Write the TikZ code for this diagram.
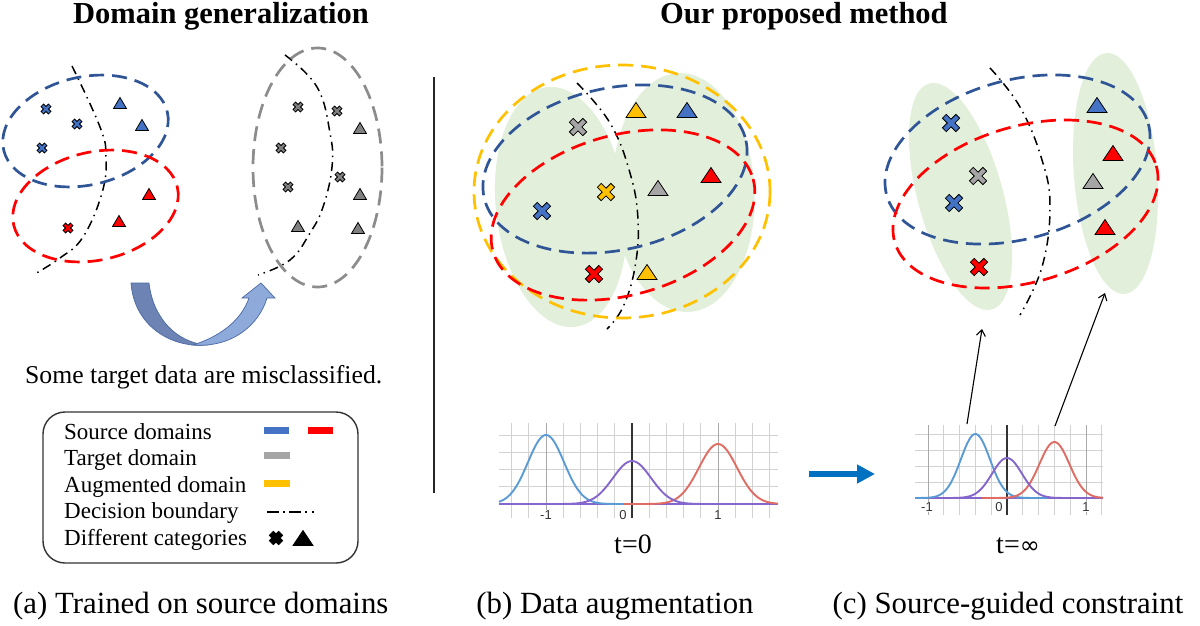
\documentclass[tikz,border=0pt]{standalone}
\usepackage{fontspec}
\usepackage{graphicx}
\setmainfont{Liberation Serif}
\newfontfamily\ticksf{Liberation Sans}
\newfontfamily\symf{DejaVu Sans}
\usetikzlibrary{arrows.meta}
\definecolor{sblue}{HTML}{2F5597}
\definecolor{mblue}{HTML}{4472C4}
\definecolor{sred}{HTML}{FF0000}
\definecolor{sgray}{HTML}{8C8C8C}
\definecolor{mgray}{HTML}{A5A5A5}
\definecolor{dgray}{HTML}{808080}
\definecolor{syel}{HTML}{FFC000}
\definecolor{sgreen}{HTML}{E2EFDA}
\definecolor{gridc}{HTML}{D2D2D2}
\definecolor{gridd}{HTML}{A8A8A8}
\definecolor{cblue}{HTML}{5A9BD5}
\definecolor{cred}{HTML}{E06C63}
\definecolor{cpurp}{HTML}{8466CC}
\definecolor{arrdark}{HTML}{6C83B3}
\definecolor{arrlight}{HTML}{8EAADB}
\definecolor{arredge}{HTML}{4A6AA5}
\definecolor{bigarrow}{HTML}{0070C0}
\tikzset{
  pics/xm/.style n args={3}{code={
    \path[fill=#1,draw=black,line width=0.8pt,rotate=45]
      (#3,#2)--(#3,#3)--(#2,#3)--(#2,-#3)--(#3,-#3)--(#3,-#2)--(-#3,-#2)
      --(-#3,-#3)--(-#2,-#3)--(-#2,#3)--(-#3,#3)--(-#3,#2)--cycle;}},
  pics/tm/.style n args={3}{code={
    \path[fill=#1,draw=black,line width=0.8pt,line join=miter]
      (-#2/2,#3/2)--(#2/2,#3/2)--(0,-#3/2)--cycle;}}
}
\begin{document}
\begin{tikzpicture}[x=1pt,y=-1pt,
  dashE/.style={line width=2.7pt, dash pattern=on 15pt off 8pt},
  ddot/.style={line width=1.5pt, dash pattern=on 9pt off 5pt on 1.5pt off 5pt},
  blob/.style={fill=sgreen},
  txt/.style={inner sep=0pt, anchor=base west},
  gl/.style={draw=gridc, line width=0.9pt},
  gd/.style={draw=gridd, line width=1pt},
  ax/.style={draw=black!80, line width=1.6pt},
  crv/.style={line width=1.9pt},
  tick/.style={inner sep=0pt, text=black!80, font=\ticksf\fontsize{13}{15}\selectfont},
  thin/.style={line width=1.1pt, -{Straight Barb[length=6pt,width=9pt]}}
]
\useasboundingbox (0,0) rectangle (1200,625);
\fill[white] (0,0) rectangle (1200,625);

% ---------------- titles ----------------
\node[txt, font=\bfseries\fontsize{30.5}{36}\selectfont] (t1) at (73,23) {Domain generalization};
\node[txt, font=\bfseries\fontsize{30.5}{36}\selectfont] (t2) at (660,23) {Our proposed method};

% ---------------- panel (a) ----------------
\draw[ddot] plot[smooth, tension=0.7] coordinates {(72,66) (100,127) (106,157) (102,193) (83,237) (60,258) (33,275)};
\draw[dashE, sblue, rotate around={13:(85.5,131)}] (85.5,131) ellipse [x radius=84, y radius=54];
\draw[dashE, sred, rotate around={13:(95.5,206)}] (95.5,206) ellipse [x radius=84, y radius=54];
\foreach \p in {(46,109),(77,124),(42,148)} \pic at \p {xm={mblue}{5.2}{1.8}};
\foreach \p in {(120,103),(142,125)} \pic at \p {tm={mblue}{13}{11}};
\foreach \p in {(149,194),(119,221)} \pic at \p {tm={sred}{13}{11}};
\pic at (68,228) {xm={sred}{5.2}{1.8}};

\draw[ddot] plot[smooth, tension=0.7] coordinates {(285,55) (317,87) (330,133) (332,167) (323,207) (310,233) (290,260) (258,275)};
\draw[dashE, sgray] (317.5,167.5) ellipse [x radius=64.5, y radius=119.5];
\foreach \p in {(298,107),(337,111),(281,148),(340,177),(288,187)} \pic at \p {xm={dgray}{5.2}{1.8}};
\foreach \p in {(360,128),(360,194),(298,226),(358,228)} \pic at \p {tm={dgray}{13}{11}};

% curved arrow
\path[fill=arrdark, draw=arredge, line width=0.7pt]
  (131,283) -- (149,283) .. controls (153,318) and (176,342) .. (206,345)
  .. controls (170,348) and (134,325) .. (131,283) -- cycle;
\path[fill=arrlight, draw=arredge, line width=0.7pt]
  (193,345) .. controls (232,348) and (259,325) .. (267,298)
  -- (275,298) -- (261,283) -- (242,298) -- (249,298)
  .. controls (242,318) and (224,335) .. (193,345) -- cycle;

\node[txt, font=\fontsize{25.7}{30}\selectfont] (mis) at (25,383) {Some target data are misclassified.};

% legend
\draw[draw=black!80, line width=1.4pt, rounded corners=22pt] (43,412) rectangle (358,563);
\node[txt, font=\fontsize{23}{27}\selectfont] (l1) at (64,439) {Source domains};
\node[txt, font=\fontsize{23}{27}\selectfont] (l2) at (64,465.5) {Target domain};
\node[txt, font=\fontsize{23}{27}\selectfont] (l3) at (64,492) {Augmented domain};
\node[txt, font=\fontsize{23}{27}\selectfont] (l4) at (64,518.5) {Decision boundary};
\node[txt, font=\fontsize{23}{27}\selectfont] (l5) at (64,545) {Different categories};
\draw[line width=7pt, mblue] (264,430) -- (289,430);
\draw[line width=7pt, sred] (308,430) -- (333,430);
\draw[line width=7pt, mgray] (264,455) -- (290,455);
\draw[line width=7pt, syel] (264,483) -- (290,483);
\draw[line width=1.6pt, dash pattern=on 12pt off 4pt on 2pt off 4pt on 12pt off 4pt on 2pt off 5pt on 2pt off 40pt] (267,512) -- (332,512);
\pic at (276,538) {xm={black}{6.6}{2.8}};
\pic at (303,538) {tm={black}{20}{15}};

\node[txt, font=\fontsize{30.8}{36}\selectfont] (capa) at (13,613) {(a) Trained on source domains};

% separator
\draw[line width=2pt, black!85] (434,77) -- (434,493);

% ---------------- panel (b) ----------------
\fill[blob, rotate around={6.7:(561,207)}] (561,207) ellipse [x radius=65, y radius=120.6];
\fill[blob, rotate around={2.5:(683.5,192.5)}] (683.5,192.5) ellipse [x radius=71, y radius=119.5];
\draw[ddot] plot[smooth, tension=0.7] coordinates {(577,83) (610,123) (630,173) (638,220) (635,267) (623,307) (607,329)};
\draw[dashE, syel] (622,191.5) ellipse [x radius=148, y radius=126.5];
\draw[dashE, sblue, rotate around={12.2:(615,169)}] (615,169) ellipse [x radius=134, y radius=81];
\draw[dashE, sred, rotate around={15.5:(623,215)}] (623,215) ellipse [x radius=135, y radius=80];
\pic at (578,127) {xm={mgray}{9.5}{2.7}};
\pic at (606,192) {xm={syel}{9.5}{2.7}};
\pic at (542,211) {xm={mblue}{9.5}{2.7}};
\pic at (594,274) {xm={sred}{9.5}{2.7}};
\pic at (636,110) {tm={syel}{20}{15}};
\pic at (687,110) {tm={mblue}{20}{15}};
\pic at (711,175) {tm={sred}{20}{15}};
\pic at (658,188) {tm={mgray}{20}{15}};
\pic at (647,272) {tm={syel}{20}{15}};

% ---------------- panel (c) ----------------
\fill[blob, rotate around={15.5:(960.5,196.5)}] (960.5,196.5) ellipse [x radius=42.5, y radius=117.2];
\fill[blob, rotate around={4.3:(1115.5,173.5)}] (1115.5,173.5) ellipse [x radius=41.6, y radius=120.8];
\draw[ddot] plot[smooth, tension=0.7] coordinates {(990,68) (1020,107) (1042,160) (1050,207) (1042,267) (1020,315)};
\draw[dashE, sblue, rotate around={15.2:(1017.5,159.5)}] (1017.5,159.5) ellipse [x radius=135.6, y radius=79.5];
\draw[dashE, sred, rotate around={16.3:(1025.5,204)}] (1025.5,204) ellipse [x radius=136.2, y radius=77.9];
\pic at (951,123) {xm={mblue}{9.5}{2.7}};
\pic at (978,176) {xm={mgray}{9.5}{2.7}};
\pic at (954,203) {xm={mblue}{9.5}{2.7}};
\pic at (979,267) {xm={sred}{9.5}{2.7}};
\pic at (1097,105) {tm={mblue}{20}{15}};
\pic at (1113,153) {tm={sred}{20}{15}};
\pic at (1093,181) {tm={mgray}{20}{15}};
\pic at (1105,227) {tm={sred}{20}{15}};

% ---------------- plot (b) ----------------
\foreach \k in {-7,...,8} \draw[gl] ({632+\k*17.2},423) -- ({632+\k*17.2},518);
\foreach \k in {1,...,4} \draw[gl] (499,{504-\k*17.2}) -- (778,{504-\k*17.2});
\draw[gd] (546,423) -- (546,518);
\draw[gd] (718,423) -- (718,518);
\draw[ax] (632,423) -- (632,518);
\draw[crv, cpurp] (499,504) -- (778,504);
\draw[crv, cblue] plot[domain=499:636, samples=90, smooth] (\x,{504-69*exp(-0.5*((\x-546)/18)^2)});
\draw[crv, cred] plot[domain=623:778, samples=90, smooth] (\x,{504-60*exp(-0.5*((\x-718)/19)^2)});
\draw[crv, cpurp] plot[domain=537:727, samples=90, smooth] (\x,{504-43*exp(-0.5*((\x-632)/19)^2)});
\node[tick, fill=white, inner sep=1pt] (b-1) at (546,515) {-1};
\node[tick, fill=white, inner sep=1pt] (b0) at (623,515) {0};
\node[tick, fill=white, inner sep=1pt] (b1) at (718,515) {1};
\node[inner sep=0pt, anchor=base, font=\fontsize{28}{32}\selectfont] (t0) at (633,553) {t=0};

% big blue arrow
\coordinate (ba1) at (809,474);
\coordinate (ba2) at (875,474);
\draw[line width=6pt, bigarrow, -{Triangle[length=18pt,width=18pt]}] (ba1) -- (ba2);

% ---------------- plot (c) ----------------
\foreach \k in {-5,...,6} \draw[gl] ({1007+\k*15.8},425) -- ({1007+\k*15.8},515);
\foreach \k in {1,...,4} \draw[gl] (915,{498-\k*15.8}) -- (1103,{498-\k*15.8});
\draw[gd] (928,425) -- (928,515);
\draw[gd] (1086,425) -- (1086,515);
\draw[ax] (1007,425) -- (1007,515);
\draw[crv, cpurp] (915,498) -- (1103,498);
\draw[crv, cblue] plot[domain=915:1048, samples=90, smooth] (\x,{498-64*exp(-0.5*((\x-975.4)/14.5)^2)});
\draw[crv, cred] plot[domain=982:1103, samples=90, smooth] (\x,{498-56*exp(-0.5*((\x-1054.4)/15)^2)});
\draw[crv, cpurp] plot[domain=935:1079, samples=90, smooth] (\x,{498-40*exp(-0.5*((\x-1007)/15)^2)});
\node[tick, fill=white, inner sep=1pt] (c-1) at (927,507) {-1};
\node[tick, fill=white, inner sep=1pt] (c0) at (999,507) {0};
\node[tick, fill=white, inner sep=1pt] (c1) at (1086,507) {1};
\node[inner sep=0pt, anchor=base, font=\fontsize{28}{32}\selectfont] (tinf) at (1018,553) {t=\symf\fontsize{24}{28}\selectfont ∞};

% thin arrows
\coordinate (pa1) at (967,424);
\coordinate (pa2) at (982,329);
\coordinate (pb1) at (1055,426);
\coordinate (pb2) at (1105,293);
\draw[thin] (pa1) -- (pa2);
\draw[thin] (pb1) -- (pb2);

% captions
\node[inner sep=0pt, anchor=base, font=\fontsize{30.8}{36}\selectfont] (capb) at (615,613) {(b) Data augmentation};
\node[inner sep=0pt, anchor=base, font=\fontsize{30.8}{36}\selectfont] (capc) at (1008,613) {(c) Source-guided constraint};
\end{tikzpicture}
\end{document}
